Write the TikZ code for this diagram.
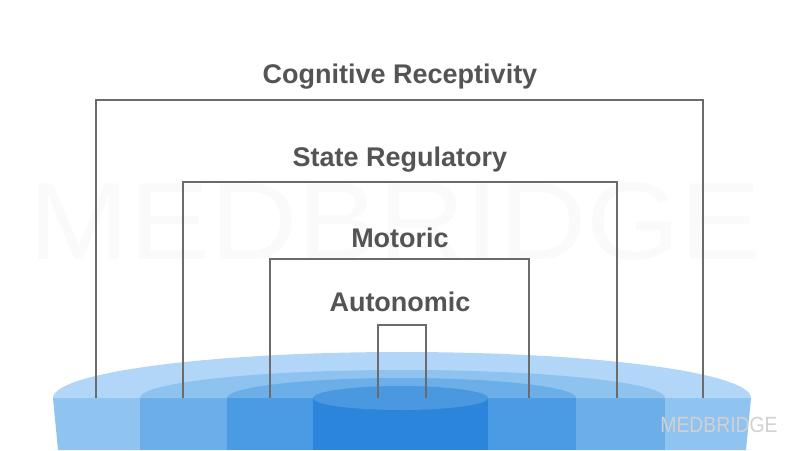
\documentclass[tikz,border=0pt]{standalone}
\usepackage{fontspec}
\setmainfont{Liberation Sans}
\begin{document}
\begin{tikzpicture}[x=1pt,y=-1pt,
  lbl/.style={font=\bfseries\fontsize{27}{30}\selectfont,text=black!67},
  br/.style={draw=black!58,line width=2.6pt}]
\useasboundingbox (0,0) rectangle (800,450);
\definecolor{aT}{HTML}{B2D6F8}\definecolor{aS}{HTML}{8FC3F0}
\definecolor{bT}{HTML}{8EC2EF}\definecolor{bS}{HTML}{6CAFE8}
\definecolor{cT}{HTML}{6BAEE8}\definecolor{cS}{HTML}{4A9BE3}
\definecolor{dT}{HTML}{4A98E0}\definecolor{dS}{HTML}{2B86DB}
\node[font=\fontsize{110}{110}\selectfont,text=black!2,xscale=1.1] (wm) at (395,222) {MEDBRIDGE};
% tiers
\fill[aS] (53,398) -- (751,398) -- (746,450) -- (58,450) -- cycle;
\fill[aT] (53,398) arc[start angle=180,end angle=360,x radius=349,y radius=46] -- cycle;
\fill[bS] (140,398) rectangle (665,450);
\fill[bT] (140,398) arc[start angle=180,end angle=360,x radius=262.5,y radius=28] -- cycle;
\fill[cS] (227,398) rectangle (576,450);
\fill[cT] (227,398) arc[start angle=180,end angle=360,x radius=174.5,y radius=20] -- cycle;
\fill[dS] (313,398) rectangle (488,450);
\fill[dT] (400.5,398) ellipse[x radius=87.5,y radius=12];
\node[font=\fontsize{22}{22}\selectfont,text=white!82!black,xscale=0.88] (wm2) at (719,425) {MEDBRIDGE};
% labels
\node[lbl] (cog) at (400,77) {Cognitive Receptivity};
\node[lbl] (sta) at (400,160) {State Regulatory};
\node[lbl] (mot) at (400,238) {Motoric};
\node[lbl] (aut) at (400,302) {Autonomic};
% brackets
\foreach \n/\l/\r/\t in {c/96/703/100, s/183/617/182, m/270/529/259, a/378/426/325}{
  \coordinate (\n1) at (\l,398); \coordinate (\n2) at (\l,\t);
  \coordinate (\n3) at (\r,\t); \coordinate (\n4) at (\r,398);
  \draw[br] (\n1) -- (\n2) -- (\n3) -- (\n4);
}
\end{tikzpicture}
\end{document}
